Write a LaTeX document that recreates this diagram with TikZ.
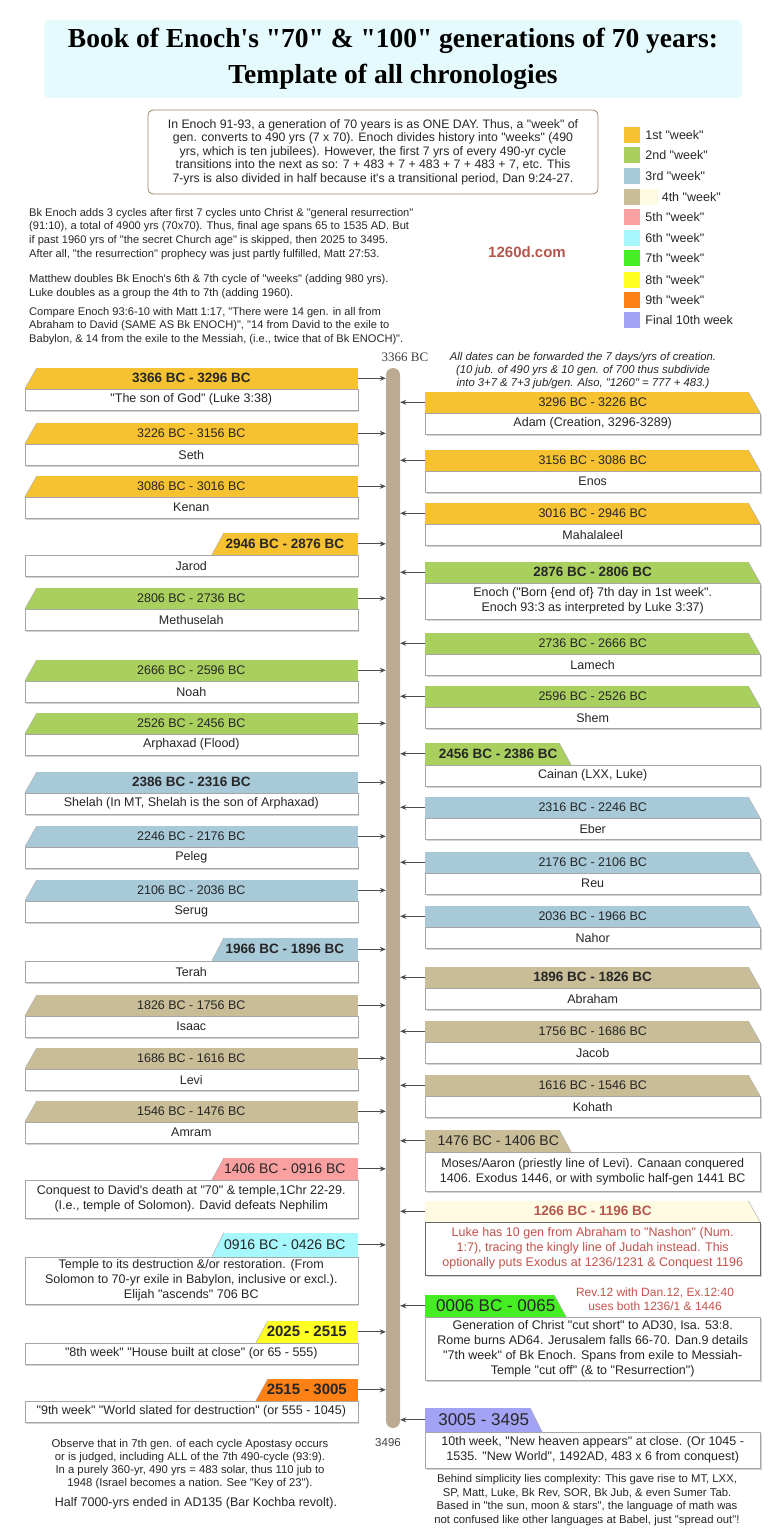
\documentclass[tikz,border=0pt]{standalone}
\usepackage{fontspec}
\setmainfont{Liberation Sans}[Ligatures=TeXOff]
\newfontfamily\titlefont{Liberation Serif}[Ligatures=TeXOff]
\usepackage{xcolor}
\usetikzlibrary{shadows, positioning, arrows.meta}

\definecolor{wk1}{HTML}{F6C232}
\definecolor{wk2}{HTML}{A9CF5E}
\definecolor{wk3}{HTML}{A8CAD8}
\definecolor{wk4}{HTML}{C9BD97}
\definecolor{wk5}{HTML}{FAA0A0}
\definecolor{wk6}{HTML}{A6F8FC}
\definecolor{wk7}{HTML}{44EE22}
\definecolor{wk8}{HTML}{FFFF22}
\definecolor{wk9}{HTML}{FF8015}
\definecolor{wk10}{HTML}{A3A3F5}
\definecolor{cream}{HTML}{FFFBE3}
\definecolor{titlebg}{HTML}{E4FAFD}
\definecolor{bartan}{HTML}{BCAA93}
\definecolor{introbrown}{HTML}{9A8563}
\definecolor{webred}{HTML}{B5564D}
\definecolor{notered}{HTML}{C4524B}

\newcommand{\hdfont}{\fontsize{12.5}{14}\selectfont}
\newcommand{\hdbold}{\fontsize{13.5}{15}\selectfont\bfseries}
\newcommand{\bxfont}{\fontsize{12.5}{15}\selectfont}

\begin{document}
\begin{tikzpicture}[x=1pt, y=-1pt, >={Stealth[length=6pt, width=5pt]},
    hd/.style={rectangle, inner xsep=2pt, inner ysep=0pt, minimum height=21pt, text=black!85, font=\hdfont},
    lhd/.style={hd, minimum width=333pt, anchor=south east, path picture={\fill[white] (path picture bounding box.north west) -- ++(12pt,0) -- (path picture bounding box.south west) -- cycle; \draw[black!35] ([xshift=12pt]path picture bounding box.north west) -- (path picture bounding box.south west);}},
    rhd/.style={hd, minimum width=335pt, anchor=south west, path picture={\fill[white] (path picture bounding box.north east) -- ++(-12pt,0) -- (path picture bounding box.south east) -- cycle; \draw[black!35] ([xshift=-12pt]path picture bounding box.north east) -- (path picture bounding box.south east);}},
    bx/.style={rectangle, draw=black!35, fill=white, minimum height=21pt, inner sep=2pt, align=center, text=black!85, font=\bxfont, drop shadow={shadow xshift=1.5pt, shadow yshift=-1.5pt, opacity=0.35}},
    lbx/.style={bx, minimum width=333pt, anchor=north east},
    rbx/.style={bx, minimum width=335pt, anchor=north west},
    conn/.style={->, draw=black!70, line width=0.8pt},
    sw/.style={minimum width=16pt, minimum height=16pt, inner sep=0pt},
    lg/.style={inner sep=0pt, text=black!85, font=\fontsize{12.5}{14}\selectfont},
    note/.style={inner sep=0pt, align=left, text=black!85, font=\fontsize{11.1}{13.8}\selectfont}]
    \useasboundingbox (0,0) rectangle (768,1538);

    \node[fill=titlebg, rounded corners=5pt, minimum width=698pt, minimum height=78pt, align=center, font=\titlefont\fontsize{27.5}{36}\selectfont\bfseries] (title) at (393,59) {Book of Enoch's "70" \& "100" generations of 70 years:\\Template of all chronologies};
    \node[draw=introbrown, rounded corners=5pt, line width=0.8pt, minimum width=450pt, minimum height=84pt, align=center, text=black!85, font=\fontsize{12.3}{13.5}\selectfont] (intro) at (373,152) {In Enoch 91-93, a generation of 70 years is as ONE DAY. Thus, a "week" of\\gen. converts to 490 yrs (7 x 70). Enoch divides history into "weeks" (490\\yrs, which is ten jubilees). However, the first 7 yrs of every 490-yr cycle\\transitions into the next as so: 7 + 483 + 7 + 483 + 7 + 483 + 7, etc. This\\7-yrs is also divided in half because it's a transitional period, Dan 9:24-27.};

    \node[note, anchor=west] (p1) at (29,234) {Bk Enoch adds 3 cycles after first 7 cycles unto Christ \& "general resurrection"\\(91:10), a total of 4900 yrs (70x70). Thus, final age spans 65 to 1535 AD. But\\if past 1960 yrs of "the secret Church age" is skipped, then 2025 to 3495.\\After all, "the resurrection" prophecy was just partly fulfilled, Matt 27:53.};
    \node[note, anchor=west] (p2) at (29,287) {Matthew doubles Bk Enoch's 6th \& 7th cycle of "weeks" (adding 980 yrs).\\Luke doubles as a group the 4th to 7th (adding 1960).};
    \node[note, anchor=west] (p3) at (29,326) {Compare Enoch 93:6-10 with Matt 1:17, "There were 14 gen. in all from\\Abraham to David (SAME AS Bk ENOCH)", "14 from David to the exile to\\Babylon, \& 14 from the exile to the Messiah, (i.e., twice that of Bk ENOCH)".};
    \node[text=webred, font=\fontsize{15}{17}\selectfont\bfseries] (web) at (527,252) {1260d.com};

    \node[sw, fill=wk1] (k1) at (632,135) {};
    \node[sw, fill=wk2] (k2) at (632,155) {};
    \node[sw, fill=wk3] (k3) at (632,176) {};
    \node[sw, fill=wk4] (k4) at (632,197) {};
    \node[sw, fill=wk5] (k5) at (632,217) {};
    \node[sw, fill=wk6] (k6) at (632,238) {};
    \node[sw, fill=wk7] (k7) at (632,258) {};
    \node[sw, fill=wk8] (k8) at (632,280) {};
    \node[sw, fill=wk9] (k9) at (632,300) {};
    \node[sw, fill=wk10] (k10) at (632,320) {};
    \node[sw, fill=cream, minimum width=18pt, right=0pt of k4] (k4c) {};
    \node[lg, right=5pt of k1] (t1) {1st "week"};
    \node[lg, right=5pt of k2] (t2) {2nd "week"};
    \node[lg, right=5pt of k3] (t3) {3rd "week"};
    \node[lg, right=3pt of k4c] (t4) {4th "week"};
    \node[lg, right=5pt of k5] (t5) {5th "week"};
    \node[lg, right=5pt of k6] (t6) {6th "week"};
    \node[lg, right=5pt of k7] (t7) {7th "week"};
    \node[lg, right=5pt of k8] (t8) {8th "week"};
    \node[lg, right=5pt of k9] (t9) {9th "week"};
    \node[lg, right=5pt of k10] (t10) {Final 10th week};

    \node[fill=bartan, rounded corners=7pt, minimum width=14pt, minimum height=1060pt, inner sep=0pt] (bar) at (393,898) {};
    \node[font=\titlefont\fontsize{13}{15}\selectfont, text=black!75] (top) at (405,357) {3366 BC};
    \node[font=\fontsize{11.5}{13}\selectfont, text=black!75] (end) at (388,1443) {3496};
    \node[note, align=center, font=\fontsize{11.3}{13}\selectfont\itshape] (dates) at (583,371) {All dates can be forwarded the 7 days/yrs of creation.\\(10 jub. of 490 yrs \& 10 gen. of 700 thus subdivide\\into 3+7 \& 7+3 jub/gen. Also, "1260" = 777 + 483.)};

    \node[lhd, fill=wk1, font=\hdbold] (d1) at (358,389) {3366 BC - 3296 BC};
    \node[lbx] (n1) at (d1.south east) {"The son of God" (Luke 3:38)};
    \node[rhd, fill=wk1] (d2) at (425,413) {3296 BC - 3226 BC};
    \node[rbx] (n2) at (d2.south west) {Adam (Creation, 3296-3289)};
    \node[lhd, fill=wk1] (d3) at (358,444) {3226 BC - 3156 BC};
    \node[lbx] (n3) at (d3.south east) {Seth};
    \node[rhd, fill=wk1] (d4) at (425,471) {3156 BC - 3086 BC};
    \node[rbx] (n4) at (d4.south west) {Enos};
    \node[lhd, fill=wk1] (d5) at (358,497) {3086 BC - 3016 BC};
    \node[lbx] (n5) at (d5.south east) {Kenan};
    \node[rhd, fill=wk1] (d6) at (425,524) {3016 BC - 2946 BC};
    \node[rbx] (n6) at (d6.south west) {Mahalaleel};
    \node[lhd, fill=wk1, font=\hdbold, minimum width=146pt, minimum height=22pt] (d7) at (358,555) {2946 BC - 2876 BC};
    \node[lbx] (n7) at (d7.south east) {Jarod};

    \node[rhd, fill=wk2, font=\hdbold] (d8) at (425,583) {2876 BC - 2806 BC};
    \node[rbx, minimum height=36pt] (n8) at (d8.south west) {Enoch ("Born \{end of\} 7th day in 1st week".\\Enoch 93:3 as interpreted by Luke 3:37)};
    \node[lhd, fill=wk2] (d9) at (358,609) {2806 BC - 2736 BC};
    \node[lbx] (n9) at (d9.south east) {Methuselah};
    \node[rhd, fill=wk2] (d10) at (425,654) {2736 BC - 2666 BC};
    \node[rbx] (n10) at (d10.south west) {Lamech};
    \node[lhd, fill=wk2] (d11) at (358,681) {2666 BC - 2596 BC};
    \node[lbx] (n11) at (d11.south east) {Noah};
    \node[rhd, fill=wk2] (d12) at (425,707) {2596 BC - 2526 BC};
    \node[rbx] (n12) at (d12.south west) {Shem};
    \node[lhd, fill=wk2] (d13) at (358,734) {2526 BC - 2456 BC};
    \node[lbx] (n13) at (d13.south east) {Arphaxad (Flood)};
    \node[rhd, fill=wk2, font=\hdbold, minimum width=146pt, minimum height=22pt] (d14) at (425,765) {2456 BC - 2386 BC};
    \node[rbx] (n14) at (d14.south west) {Cainan (LXX, Luke)};

    \node[lhd, fill=wk3, font=\hdbold] (d15) at (358,793) {2386 BC - 2316 BC};
    \node[lbx] (n15) at (d15.south east) {Shelah (In MT, Shelah is the son of Arphaxad)};
    \node[rhd, fill=wk3] (d16) at (425,818) {2316 BC - 2246 BC};
    \node[rbx] (n16) at (d16.south west) {Eber};
    \node[lhd, fill=wk3] (d17) at (358,847) {2246 BC - 2176 BC};
    \node[lbx] (n17) at (d17.south east) {Peleg};
    \node[rhd, fill=wk3] (d18) at (425,873) {2176 BC - 2106 BC};
    \node[rbx] (n18) at (d18.south west) {Reu};
    \node[lhd, fill=wk3] (d19) at (358,901) {2106 BC - 2036 BC};
    \node[lbx] (n19) at (d19.south east) {Serug};
    \node[rhd, fill=wk3] (d20) at (425,927) {2036 BC - 1966 BC};
    \node[rbx] (n20) at (d20.south west) {Nahor};
    \node[lhd, fill=wk3, font=\hdbold, minimum width=146pt, minimum height=23pt] (d21) at (358,961) {1966 BC - 1896 BC};
    \node[lbx] (n21) at (d21.south east) {Terah};

    \node[rhd, fill=wk4, font=\hdbold] (d22) at (425,988) {1896 BC - 1826 BC};
    \node[rbx] (n22) at (d22.south west) {Abraham};
    \node[lhd, fill=wk4] (d23) at (358,1016) {1826 BC - 1756 BC};
    \node[lbx] (n23) at (d23.south east) {Isaac};
    \node[rhd, fill=wk4] (d24) at (425,1042) {1756 BC - 1686 BC};
    \node[rbx] (n24) at (d24.south west) {Jacob};
    \node[lhd, fill=wk4] (d25) at (358,1069) {1686 BC - 1616 BC};
    \node[lbx] (n25) at (d25.south east) {Levi};
    \node[rhd, fill=wk4] (d26) at (425,1096) {1616 BC - 1546 BC};
    \node[rbx] (n26) at (d26.south west) {Kohath};
    \node[lhd, fill=wk4] (d27) at (358,1122) {1546 BC - 1476 BC};
    \node[lbx] (n27) at (d27.south east) {Amram};
    \node[rhd, fill=wk4, font=\fontsize{14}{16}\selectfont, minimum width=146pt, minimum height=22pt] (d28) at (425,1152) {1476 BC - 1406 BC};
    \node[rbx, minimum height=39pt] (n28) at (d28.south west) {Moses/Aaron (priestly line of Levi). Canaan conquered\\1406. Exodus 1446, or with symbolic half-gen 1441 BC};

    \node[lhd, fill=wk5, font=\fontsize{14}{16}\selectfont, minimum width=146pt, minimum height=22pt] (d29) at (358,1180) {1406 BC - 0916 BC};
    \node[lbx, minimum height=38pt] (n29) at (d29.south east) {Conquest to David's death at "70" \& temple,1Chr 22-29.\\(I.e., temple of Solomon). David defeats Nephilim};
    \node[rhd, fill=cream, text=webred, font=\hdbold] (d30) at (425,1222) {1266 BC - 1196 BC};
    \node[rbx, draw=black!60, text=notered, minimum height=53pt] (n30) at (d30.south west) {Luke has 10 gen from Abraham to "Nashon" (Num.\\1:7), tracing the kingly line of Judah instead. This\\optionally puts Exodus at 1236/1231 \& Conquest 1196};
    \node[lhd, fill=wk6, font=\fontsize{14}{16}\selectfont, minimum width=146pt, minimum height=24pt] (d31) at (358,1257) {0916 BC - 0426 BC};
    \node[lbx, minimum height=47pt] (n31) at (d31.south east) {Temple to its destruction \&/or restoration. (From\\Solomon to 70-yr exile in Babylon, inclusive or excl.).\\Elijah "ascends" 706 BC};
    \node[align=center, text=notered, font=\fontsize{12}{14}\selectfont] (rev) at (655,1299) {Rev.12 with Dan.12, Ex.12:40\\uses both 1236/1 \& 1446};

    \node[rhd, fill=wk7, font=\fontsize{17}{19}\selectfont, minimum width=141pt, minimum height=22pt] (d33) at (425,1317) {0006 BC - 0065};
    \node[rbx, minimum height=63pt] (n33) at (d33.south west) {Generation of Christ "cut short" to AD30, Isa. 53:8.\\Rome burns AD64. Jerusalem falls 66-70. Dan.9 details\\"7th week" of Bk Enoch. Spans from exile to Messiah-\\Temple "cut off" (\& to "Resurrection")};
    \node[lhd, fill=wk8, font=\fontsize{15}{17}\selectfont\bfseries, minimum width=102pt, minimum height=22pt] (d34) at (358,1343) {2025 - 2515};
    \node[lbx] (n34) at (d34.south east) {"8th week" "House built at close" (or 65 - 555)};
    \node[lhd, fill=wk9, font=\fontsize{15}{17}\selectfont\bfseries, minimum width=102pt, minimum height=22pt] (d35) at (358,1401) {2515 - 3005};
    \node[lbx] (n35) at (d35.south east) {"9th week" "World slated for destruction" (or 555 - 1045)};
    \node[rhd, fill=wk10, font=\fontsize{17}{19}\selectfont, minimum width=117pt, minimum height=24pt] (d36) at (425,1432) {3005 - 3495};
    \node[rbx, minimum height=36pt] (n36) at (d36.south west) {10th week, "New heaven appears" at close. (Or 1045 -\\1535. "New World", 1492AD, 483 x 6 from conquest)};

    \node[note, align=center, font=\fontsize{11.3}{13.2}\selectfont] (obs) at (190,1464) {Observe that in 7th gen. of each cycle Apostasy occurs\\or is judged, including ALL of the 7th 490-cycle (93:9).\\In a purely 360-yr, 490 yrs = 483 solar, thus 110 jub to\\1948 (Israel becomes a nation. See "Key of 23").};
    \node[note, font=\fontsize{12.5}{14}\selectfont] (half) at (196,1503) {Half 7000-yrs ended in AD135 (Bar Kochba revolt).};
    \node[note, align=center, font=\fontsize{11.3}{13.7}\selectfont] (behind) at (587,1500) {Behind simplicity lies complexity: This gave rise to MT, LXX,\\SP, Matt, Luke, Bk Rev, SOR, Bk Jub, \& even Sumer Tab.\\Based in "the sun, moon \& stars", the language of math was\\not confused like other languages at Babel, just "spread out"!};

    \draw[conn] (d1.east) -- (d1.east -| bar.west);
    \draw[conn] (d2.west) -- (d2.west -| bar.east);
    \draw[conn] (d3.east) -- (d3.east -| bar.west);
    \draw[conn] (d4.west) -- (d4.west -| bar.east);
    \draw[conn] (d5.east) -- (d5.east -| bar.west);
    \draw[conn] (d6.west) -- (d6.west -| bar.east);
    \draw[conn] (d7.east) -- (d7.east -| bar.west);
    \draw[conn] (d8.west) -- (d8.west -| bar.east);
    \draw[conn] (d9.east) -- (d9.east -| bar.west);
    \draw[conn] (d10.west) -- (d10.west -| bar.east);
    \draw[conn] (d11.east) -- (d11.east -| bar.west);
    \draw[conn] (d12.west) -- (d12.west -| bar.east);
    \draw[conn] (d13.east) -- (d13.east -| bar.west);
    \draw[conn] (d14.west) -- (d14.west -| bar.east);
    \draw[conn] (d15.east) -- (d15.east -| bar.west);
    \draw[conn] (d16.west) -- (d16.west -| bar.east);
    \draw[conn] (d17.east) -- (d17.east -| bar.west);
    \draw[conn] (d18.west) -- (d18.west -| bar.east);
    \draw[conn] (d19.east) -- (d19.east -| bar.west);
    \draw[conn] (d20.west) -- (d20.west -| bar.east);
    \draw[conn] (d21.east) -- (d21.east -| bar.west);
    \draw[conn] (d22.west) -- (d22.west -| bar.east);
    \draw[conn] (d23.east) -- (d23.east -| bar.west);
    \draw[conn] (d24.west) -- (d24.west -| bar.east);
    \draw[conn] (d25.east) -- (d25.east -| bar.west);
    \draw[conn] (d26.west) -- (d26.west -| bar.east);
    \draw[conn] (d27.east) -- (d27.east -| bar.west);
    \draw[conn] (d28.west) -- (d28.west -| bar.east);
    \draw[conn] (d29.east) -- (d29.east -| bar.west);
    \draw[conn] (d30.west) -- (d30.west -| bar.east);
    \draw[conn] (d31.east) -- (d31.east -| bar.west);
    \draw[conn] (d33.west) -- (d33.west -| bar.east);
    \draw[conn] (d34.east) -- (d34.east -| bar.west);
    \draw[conn] (d35.east) -- (d35.east -| bar.west);
    \draw[conn] (d36.west) -- (d36.west -| bar.east);
\end{tikzpicture}
\end{document}
